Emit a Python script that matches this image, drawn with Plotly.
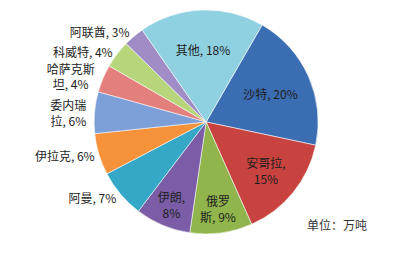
import plotly.graph_objects as go

countries = ["沙特", "安哥拉", "俄罗斯", "伊朗", "阿曼", "伊拉克", "委内瑞拉", "哈萨克斯坦", "科威特", "阿联酋", "其他"]
shares = [20, 15, 9, 8, 7, 6, 6, 4, 4, 3, 18]
label_texts = ["沙特, 20%", "安哥拉,<br>15%", "俄罗<br>斯, 9%", "伊朗,<br>8%", "阿曼, 7%", "伊拉克, 6%",
               "委内瑞<br>拉, 6%", "哈萨克斯<br>坦, 4%", "科威特, 4%", "阿联酋, 3%", "其他, 18%"]
colors = ["#3b6db3", "#c8423f", "#91b54c", "#7a5da6", "#35a8c8", "#f6923a",
          "#7d9fd8", "#e37f7d", "#b7d57a", "#a08dc6", "#8fd0e1"]
positions = ["inside", "inside", "inside", "inside", "outside", "outside",
             "outside", "outside", "outside", "outside", "inside"]
unit_text = "单位：万吨"

fig = go.Figure(go.Pie(
    labels=countries,
    values=shares,
    text=label_texts,
    textinfo="text",
    textposition=positions,
    insidetextorientation="horizontal",
    sort=False,
    direction="clockwise",
    rotation=30,
    marker=dict(colors=colors, line=dict(color="rgba(255,255,255,0.55)", width=1)),
    textfont=dict(family="Noto Sans CJK SC", size=12, color="#1e1e1e"),
    domain=dict(x=[0.2347, 0.7933], y=[0.079, 0.961]),
    showlegend=False,
    hoverinfo="label+percent",
))

fig.add_annotation(text=unit_text, x=0.84, y=0.115, xref="paper", yref="paper",
                   showarrow=False, xanchor="center", yanchor="middle",
                   font=dict(family="Noto Sans CJK SC", size=12, color="#333333"))

fig.update_layout(
    width=401, height=254,
    margin=dict(l=0, r=0, t=0, b=0),
    paper_bgcolor="white",
    plot_bgcolor="white",
    uniformtext=dict(minsize=12, mode="show"),
)

fig.write_html("out.html")
